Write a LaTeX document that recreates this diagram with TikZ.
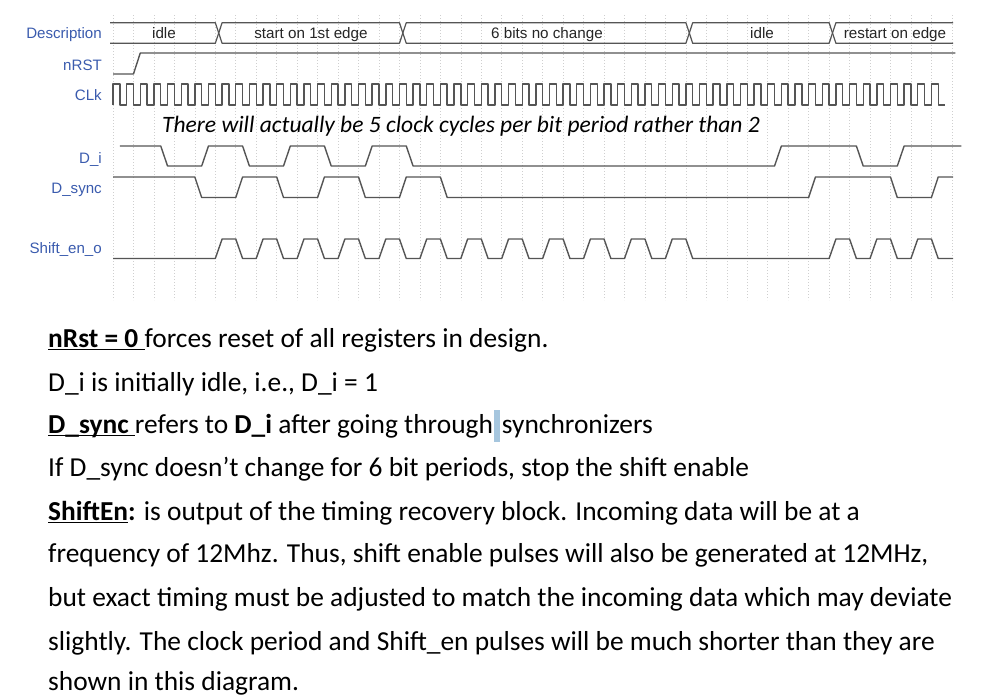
\documentclass[tikz,border=0pt]{standalone}
\usepackage{fontspec}
\setmainfont{Carlito}
\newfontfamily\arialf{Liberation Sans}
\definecolor{wavec}{HTML}{555555}
\definecolor{lblc}{HTML}{3A5BAE}
\definecolor{gridc}{HTML}{CFCFCF}
\definecolor{cursorc}{HTML}{A6C6DE}
\newcommand\myul[1]{\setbox0\hbox{#1}\rlap{\rule[-3.2pt]{\wd0}{1.4pt}}\box0}
\newcommand\cursorbar{\hspace{1.5pt}\textcolor{cursorc}{\rule[-9pt]{6pt}{32pt}}\hspace{1.5pt}}
\begin{document}
\begin{tikzpicture}[x=1pt,y=-1pt,
  wave/.style={draw=wavec, line width=1.4pt, line join=round},
  lbl/.style={font=\arialf\fontsize{15.1}{17}\selectfont, text=lblc, anchor=base east, inner sep=0pt},
  bustxt/.style={font=\arialf\fontsize{15.2}{17}\selectfont, text=black!85, anchor=base, inner sep=0pt},
  body/.style={font=\fontsize{27.4}{32}\selectfont, anchor=base west, inner sep=0pt},
  gridl/.style={draw=gridc, dash pattern=on 1pt off 2pt, line width=0.6pt}]
\useasboundingbox (0,0) rectangle (982,697);
\fill[white] (0,0) rectangle (982,697);

% grid and waveforms, time unit = half clock period
\begin{scope}[shift={(113,0)}, x=6.82pt]
\foreach \t in {0,3,...,123} \draw[gridl] (\t,15) -- (\t,300);
% Description bus
\draw[wave, line width=1.2pt] (-0.44,22.7) -- (15,22.7) -- (16,43.3) -- (42,43.3) -- (43,22.7) -- (84,22.7) -- (85,43.3) -- (105,43.3) -- (106,22.7) -- (123.2,22.7);
\draw[wave, line width=1.2pt] (-0.44,43.3) -- (15,43.3) -- (16,22.7) -- (42,22.7) -- (43,43.3) -- (84,43.3) -- (85,22.7) -- (105,22.7) -- (106,43.3) -- (123.2,43.3);
% nRST
\draw[wave] (0,74) -- (3,74) -- (4,53) -- (123.5,53);
% CLk
\draw[wave] (0,105) \foreach \i in {0,...,60} { -- ({2*\i},84) -- ({2*\i+1},84) -- ({2*\i+1},105) -- ({2*\i+2},105) };
% D_i
\draw[wave] (1,146) -- (7,146) -- (8,166) -- (13,166) -- (14,146) -- (19,146) -- (20,166) -- (25,166) -- (26,146) -- (31,146) -- (32,166) -- (37,166) -- (38,146) -- (43,146) -- (44,166) -- (97,166) -- (98,146) -- (109,146) -- (110,166) -- (115,166) -- (116,146) -- (124.4,146);
% D_sync
\draw[wave] (0,177) -- (12,177) -- (13,197.5) -- (18,197.5) -- (19,177) -- (24,177) -- (25,197.5) -- (30,197.5) -- (31,177) -- (36,177) -- (37,197.5) -- (42,197.5) -- (43,177) -- (48,177) -- (49,197.5) -- (102,197.5) -- (103,177) -- (114,177) -- (115,197.5) -- (120,197.5) -- (121,177) -- (123.2,177);
% Shift_en_o
\draw[wave] (0,258.5) \foreach \k in {15,21,...,81} { -- (\k,258.5) -- ({\k+1},239) -- ({\k+3},239) -- ({\k+4},258.5) } \foreach \k in {105,111,117} { -- (\k,258.5) -- ({\k+1},239) -- ({\k+3},239) -- ({\k+4},258.5) } -- (123.2,258.5);
\end{scope}

% signal labels
\node[lbl] (lDesc) at (102,38.4) {Description};
\node[lbl] (lRst) at (102,70.4) {nRST};
\node[lbl] (lClk) at (102,100.4) {CLk};
\node[lbl] (lDi) at (102,163.4) {D\_i};
\node[lbl] (lDs) at (102,193.4) {D\_sync};
\node[lbl] (lSh) at (102,253.4) {Shift\_en\_o};

% bus texts
\node[bustxt] (b1) at (164,38.4) {idle};
\node[bustxt] (b2) at (311,38.4) {start on 1st edge};
\node[bustxt] (b3) at (547,38.4) {6 bits no change};
\node[bustxt] (b4) at (762,38.4) {idle};
\node[bustxt] (b5) at (895,38.4) {restart on edge};

% note
\node[font=\itshape\fontsize{23.5}{27}\selectfont, anchor=base, inner sep=0pt] (note) at (461,132.5) {There will actually be 5 clock cycles per bit period rather than 2};

% body text
\node[body] (t1) at (48,347) {\myul{\textbf{nRst = 0\ }}forces reset of all registers in design.};
\node[body] (t2) at (48,391) {D\_i is initially idle, i.e., D\_i = 1};
\node[body] (t3) at (48,433) {\myul{\textbf{D\_sync\ }}refers to \textbf{D\_i} after going through\cursorbar synchronizers};
\node[body] (t4) at (48,476) {If D\_sync doesn’t change for 6 bit periods, stop the shift enable};
\node[body] (t5) at (48,520) {\textbf{\myul{ShiftEn}:} is output of the timing recovery block. Incoming data will be at a};
\node[body] (t6) at (48,562) {frequency of 12Mhz. Thus, shift enable pulses will also be generated at 12MHz,};
\node[body] (t7) at (48,606) {but exact timing must be adjusted to match the incoming data which may deviate};
\node[body] (t8) at (48,650) {slightly. The clock period and Shift\_en pulses will be much shorter than they are};
\node[body] (t9) at (48,690) {shown in this diagram.};
\end{tikzpicture}
\end{document}
